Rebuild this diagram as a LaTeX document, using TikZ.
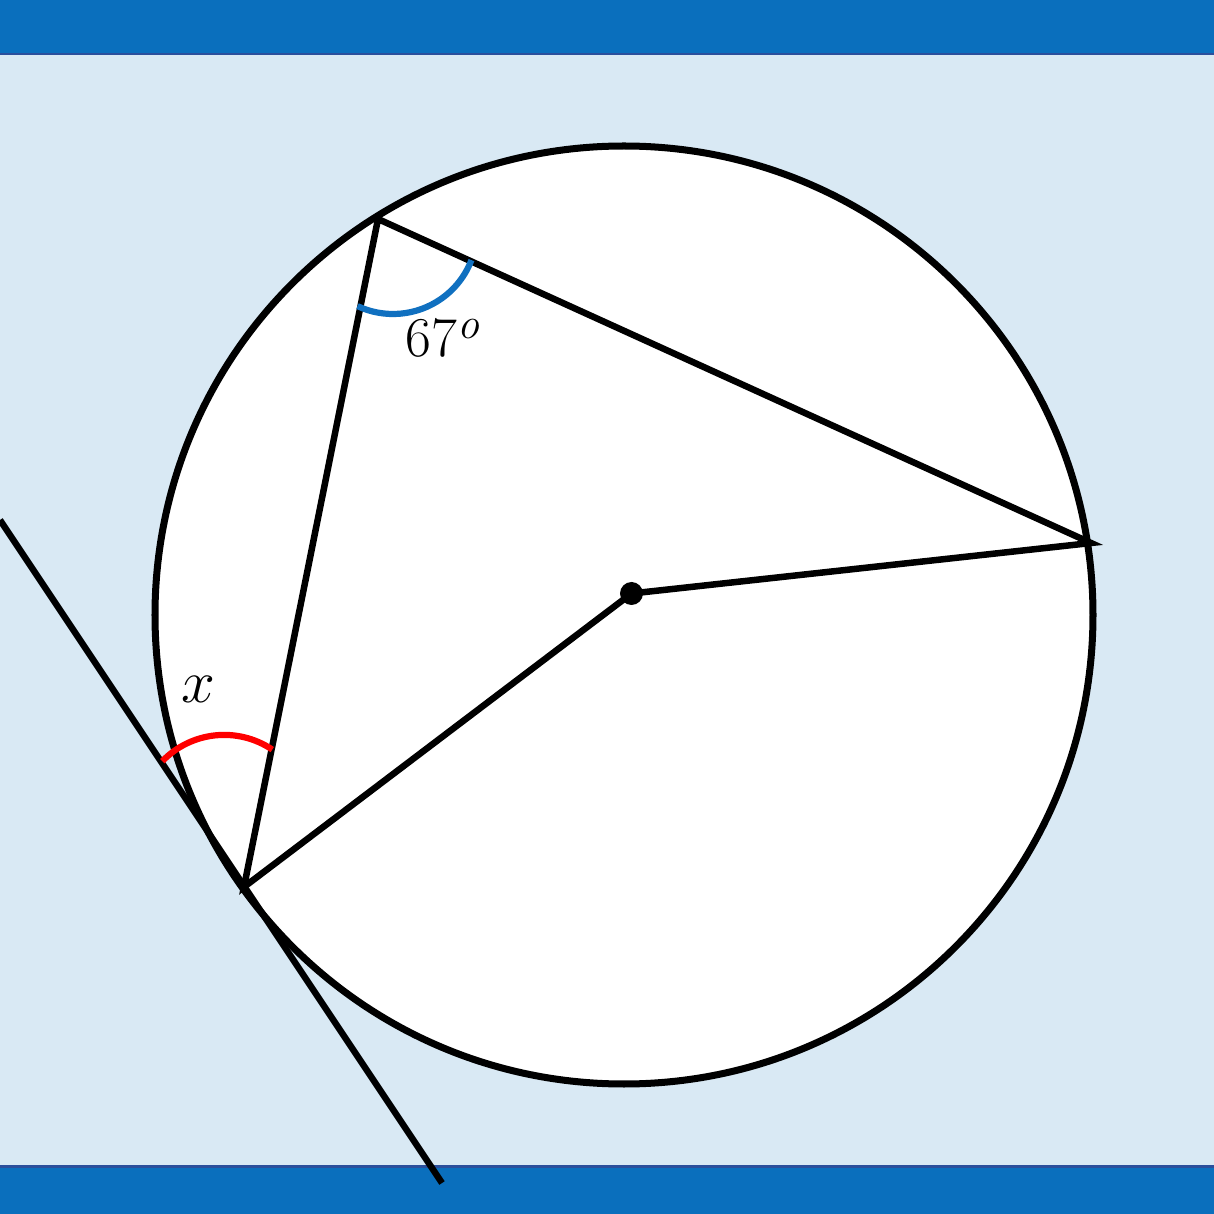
\documentclass[tikz,border=0pt]{standalone}
\usepackage{amsmath}
\definecolor{bgblue}{HTML}{D9E9F4}
\definecolor{bandblue}{HTML}{0A6FBD}
\definecolor{bandedge}{HTML}{2B4F9C}
\definecolor{arcblue}{HTML}{1070C0}
\definecolor{arcred}{HTML}{FF0000}
\tikzset{
  bandfill/.style={fill=bandblue},
  bandline/.style={draw=bandedge, line width=0.025cm},
  figline/.style={draw=black, line width=0.065cm, line join=miter},
  ringline/.style={draw=black, fill=white, line width=0.07cm},
  anglearc/.style={line width=0.062cm},
  labeltext/.style={inner sep=0pt, outer sep=0pt, text=black}
}
\begin{document}
\begin{tikzpicture}[x=0.01cm,y=0.01cm]
\useasboundingbox (0,0) rectangle (1214,1214);
% background and bands
\fill[bgblue] (0,0) rectangle (1214,1214);
\fill[bandfill] (0,1160) rectangle (1214,1214);
\draw[bandline] (0,1160) -- (1214,1160);
\fill[bandfill] (0,0) rectangle (1214,47.5);
\draw[bandline] (0,47.5) -- (1214,47.5);
% points
\coordinate (Oc) at (624,599);
\coordinate (A) at (378,995);
\coordinate (B) at (1091,671);
\coordinate (C) at (244,327);
\coordinate (O) at (631.5,620.5);
\coordinate (T1) at (0,694);
\coordinate (T2) at (442,31);
% circle
\draw[ringline] (Oc) circle[radius=469];
% tangent
\draw[figline] (T1) -- (T2);
% chords and radii
\draw[figline] (A) -- (B) -- (O) -- (C) -- cycle;
% angle arcs
\draw[anglearc, arcblue] (393,984) ++(245:84) arc[start angle=245, end angle=339, radius=84];
\draw[anglearc, arcred] (224.2,393.1) ++(136:86) arc[start angle=136, end angle=56, radius=86];
% centre dot
\fill[black] (O) circle[radius=11.5];
% labels
\node[labeltext, anchor=base west, font=\fontsize{16}{18}\selectfont] (lab67) at (406,857) {67\raisebox{5.3pt}{\fontsize{12.5}{14}\selectfont\itshape o}};
\node[labeltext, anchor=base west, font=\fontsize{17.5}{20}\selectfont] (labx) at (182,511) {$x$};
\end{tikzpicture}
\end{document}
